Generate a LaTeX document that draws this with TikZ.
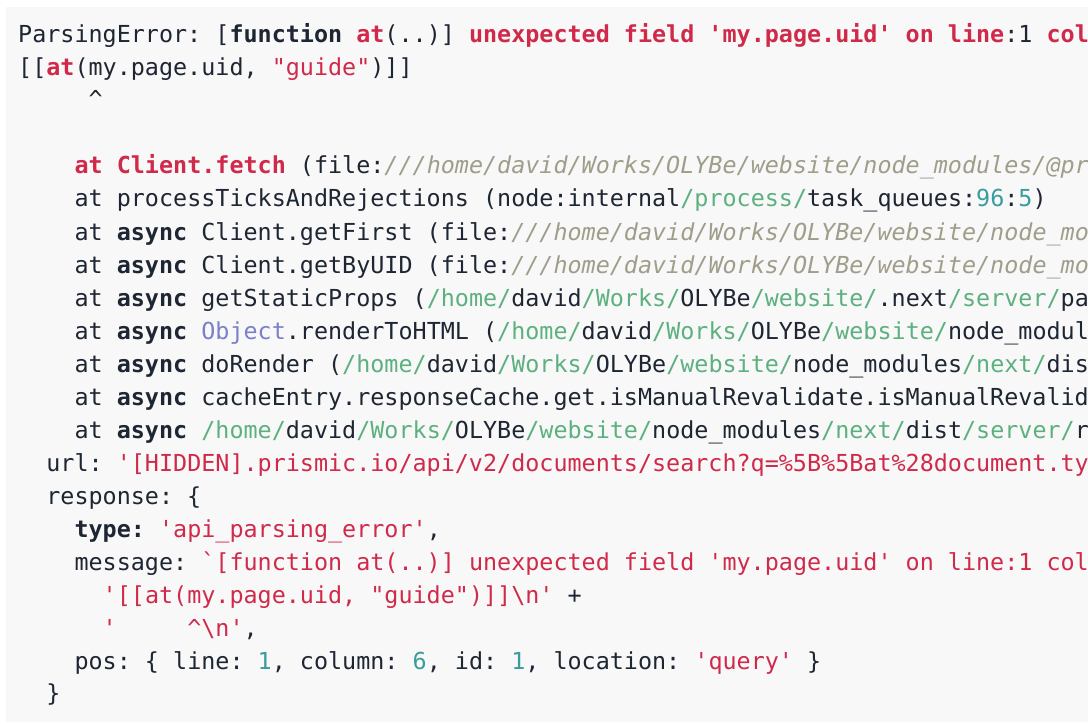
\documentclass[tikz,border=0pt]{standalone}
\usepackage{fontspec}
\setmonofont{DejaVu Sans Mono}
\definecolor{dk}{HTML}{1E2633}
\definecolor{rd}{HTML}{D02A4B}
\definecolor{gy}{HTML}{A09E8A}
\definecolor{gn}{HTML}{5DB07F}
\definecolor{tl}{HTML}{3A9C9C}
\definecolor{pp}{HTML}{7A80C9}
\definecolor{bg}{HTML}{F8F8F8}
\newcommand\R[1]{\textcolor{rd}{#1}}
\newcommand\RB[1]{\textcolor{rd}{\bfseries #1}}
\newcommand\BB[1]{{\bfseries #1}}
\newcommand\G[1]{\textcolor{gn}{#1}}
\newcommand\I[1]{\textcolor{gy}{\itshape #1}}
\newcommand\TL[1]{\textcolor{tl}{#1}}
\newcommand\PP[1]{\textcolor{pp}{#1}}
\newcommand\sps[1]{\hspace*{#1\dimexpr 14.09bp\relax}}
\tikzset{txt/.style={anchor=base west,inner sep=0pt,text=dk,font=\ttfamily\fontsize{23.4bp}{28bp}\selectfont}}
\newcommand\cl[4]{\node[txt] (#1) at ({18+#3*14.09},{#2+8}) {#4};}
\begin{document}
\begin{tikzpicture}[x=1bp,y=-1bp]
\useasboundingbox (0,0) rectangle (1088,724);
\clip (0,0) rectangle (1088,724);
\fill[bg] (6,7) rectangle (1100,722);
\cl{l1}{35}{0}{ParsingError: [\BB{function} \RB{at}(..)] \RB{unexpected field 'my.page.uid' on line}:1 \RB{column}:6}
\cl{l2}{68}{0}{[[\RB{at}(my.page.uid, \R{"guide"})]]}
\cl{l3}{100}{5}{\textasciicircum}
\cl{l5}{166}{4}{\RB{at Client.fetch} (file:\I{///home/david/Works/OLYBe/website/node\_modules/@prismicio/client}}
\cl{l6}{199}{4}{at processTicksAndRejections (node:internal\G{/process/}task\_queues:\TL{96}:\TL{5})}
\cl{l7}{232}{4}{at \BB{async} Client.getFirst (file:\I{///home/david/Works/OLYBe/website/node\_modules/}}
\cl{l8}{265}{4}{at \BB{async} Client.getByUID (file:\I{///home/david/Works/OLYBe/website/node\_modules/}}
\cl{l9}{298}{4}{at \BB{async} getStaticProps (\G{/home/}david\G{/Works/}OLYBe\G{/website/}.next\G{/server/}pages}
\cl{l10}{331}{4}{at \BB{async} \PP{Object}.renderToHTML (\G{/home/}david\G{/Works/}OLYBe\G{/website/}node\_modules}
\cl{l11}{364}{4}{at \BB{async} doRender (\G{/home/}david\G{/Works/}OLYBe\G{/website/}node\_modules\G{/next/}dist}
\cl{l12}{397}{4}{at \BB{async} cacheEntry.responseCache.get.isManualRevalidate.isManualRevalidate}
\cl{l13}{430}{4}{at \BB{async} \G{/home/}david\G{/Works/}OLYBe\G{/website/}node\_modules\G{/next/}dist\G{/server/}render}
\cl{l14}{463}{2}{url: \R{'[HIDDEN].prismic.io/api/v2/documents/search?q=\%5B\%5Bat\%28document.type}}
\cl{l15}{496}{2}{response: \{}
\cl{l16}{529}{4}{\BB{type:} \R{'api\_parsing\_error'},}
\cl{l17}{562}{4}{message: \R{`[function at(..)] unexpected field 'my.page.uid' on line:1 column:6}}
\cl{l18}{595}{6}{\R{'[[at(my.page.uid, "guide")]]\textbackslash n'} +}
\cl{l19}{628}{6}{\R{'\sps{5}\textasciicircum\textbackslash n'},}
\cl{l20}{661}{4}{pos: \{ line: \TL{1}, column: \TL{6}, id: \TL{1}, location: \R{'query'} \}}
\cl{l21}{693}{2}{\}}
\end{tikzpicture}
\end{document}
